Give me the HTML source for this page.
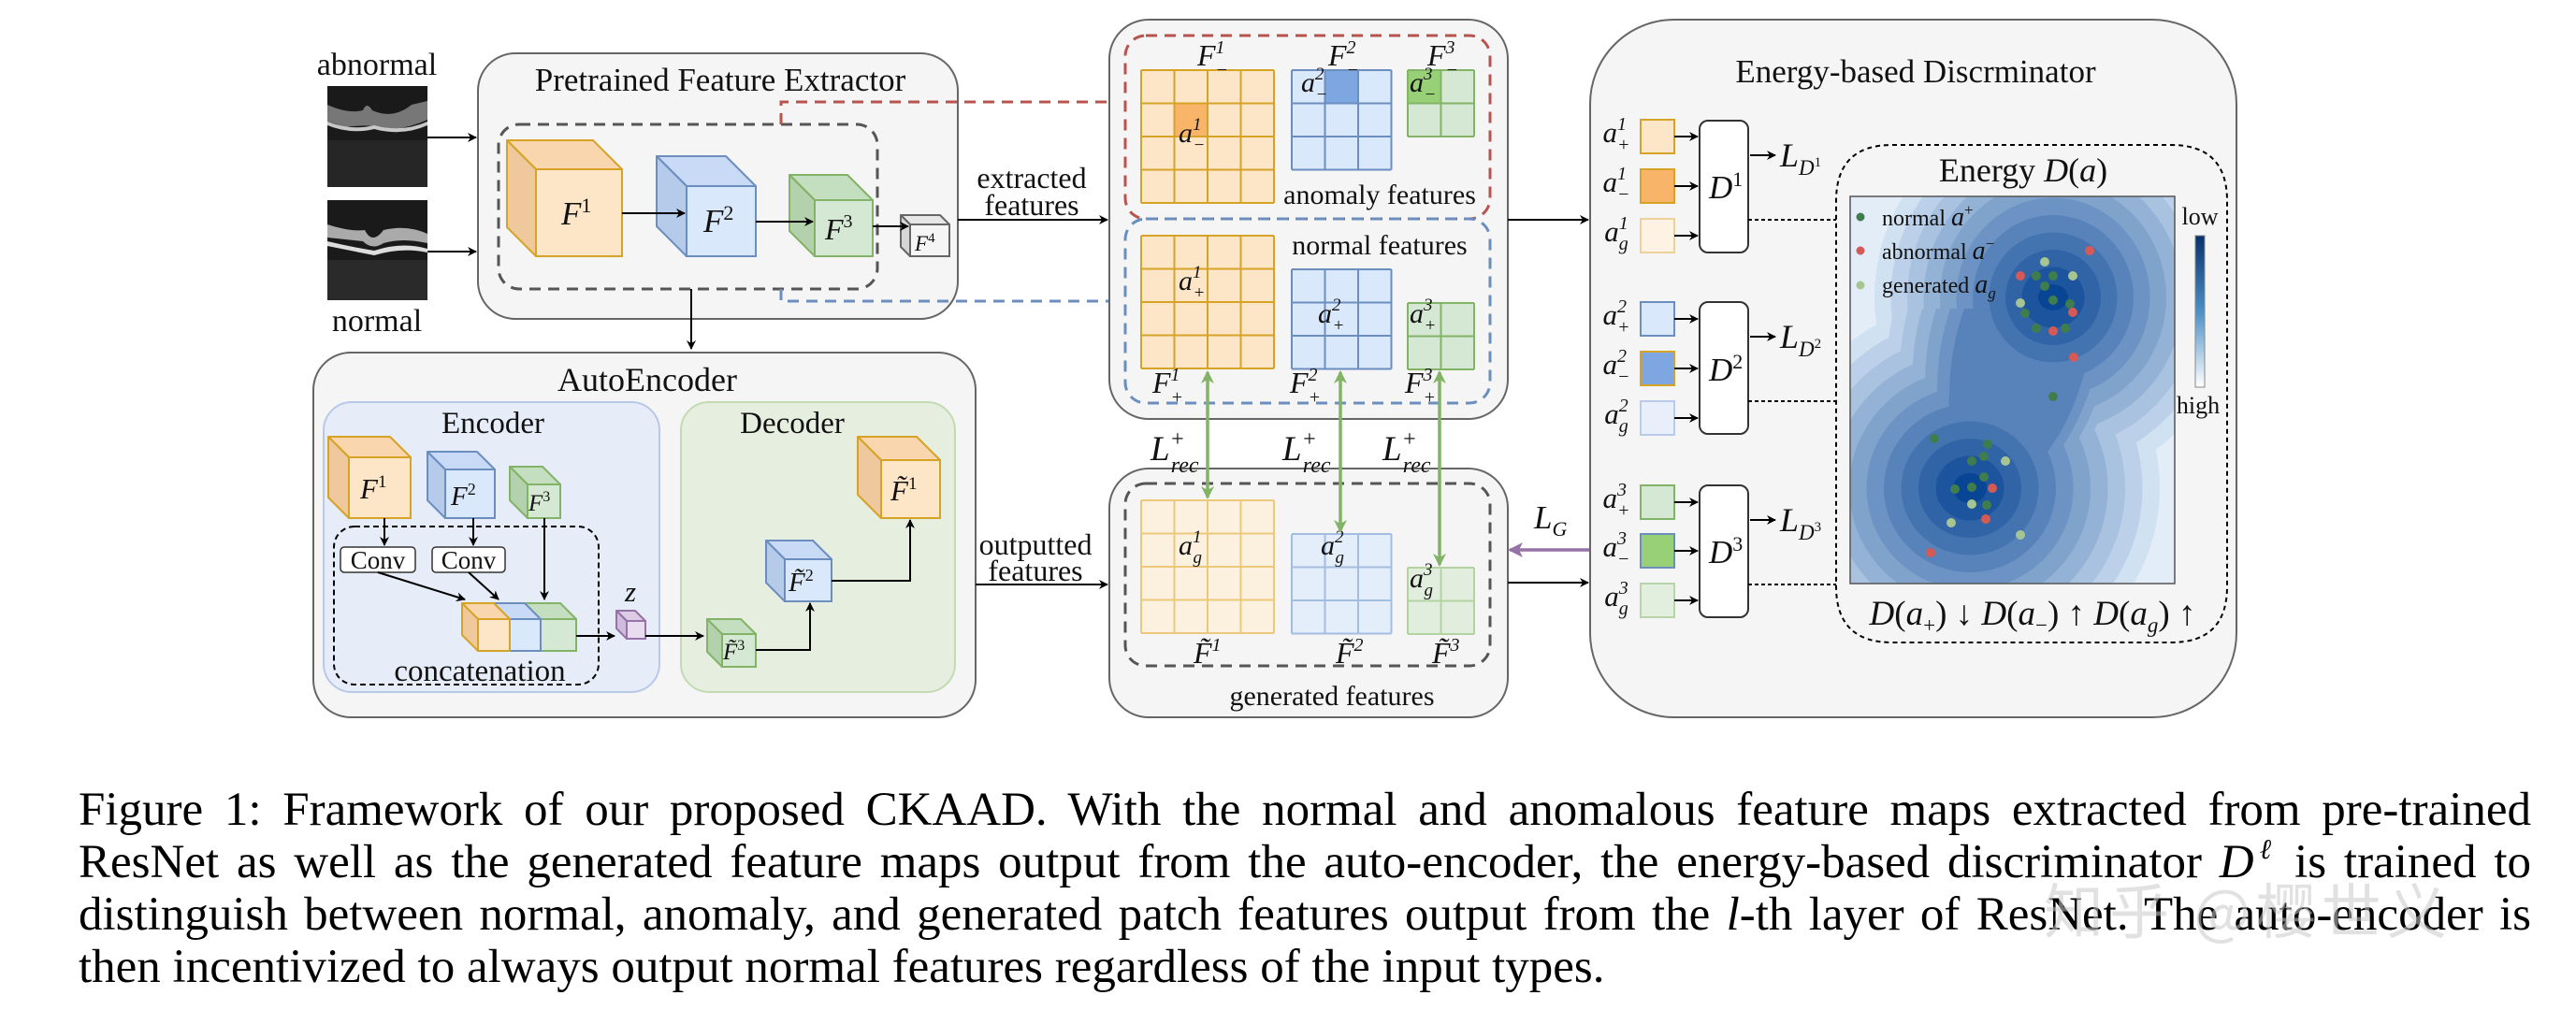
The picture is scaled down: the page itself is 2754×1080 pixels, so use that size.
<!DOCTYPE html>
<html><head><meta charset="utf-8"><style>
html,body{margin:0;padding:0;background:#fff;}
body{width:2754px;height:1080px;overflow:hidden;position:relative;}
svg{position:absolute;left:0;top:0;}
text{font-family:"Liberation Serif",serif;fill:#111;}
.m{font-style:italic;}
#cap{position:absolute;left:84px;top:838px;width:2622px;font-family:"Liberation Serif",serif;font-size:51px;line-height:56px;color:#000;}
#cap div{text-align:justify;text-align-last:justify;white-space:nowrap;height:56px;}
#cap div.l{text-align-last:left;}
#cap sup{font-size:30px;line-height:0;vertical-align:0;position:relative;top:-20px;}
#wm{position:absolute;left:2185px;top:925px;font-family:"Noto Sans CJK SC",sans-serif;font-size:64px;color:rgba(200,200,200,0.55);letter-spacing:6px;}
</style></head><body>
<svg id="s" width="2754" height="1080" viewBox="0 0 2754 1080">
<defs>
<marker id="ar" markerWidth="10" markerHeight="10" refX="9" refY="5" orient="auto" markerUnits="userSpaceOnUse"><path d="M0,0 L10,5 L0,10 L3,5 z" fill="#000"/></marker>
<marker id="ag" markerWidth="14" markerHeight="14" refX="12" refY="7" orient="auto-start-reverse" markerUnits="userSpaceOnUse"><path d="M0,0 L14,7 L0,14 L4,7 z" fill="#82b366"/></marker>
<marker id="ap" markerWidth="16" markerHeight="16" refX="14" refY="8" orient="auto" markerUnits="userSpaceOnUse"><path d="M0,0 L16,8 L0,16 L4,8 z" fill="#9673a6"/></marker>
<linearGradient id="cb" x1="0" y1="0" x2="0" y2="1"><stop offset="0" stop-color="#08306b"/><stop offset="0.5" stop-color="#4a90c8"/><stop offset="1" stop-color="#ffffff"/></linearGradient>
<clipPath id="pc"><rect x="1978" y="210" width="347" height="414"/></clipPath>
<filter id="bl" x="-20%" y="-20%" width="140%" height="140%"><feGaussianBlur stdDeviation="4"/></filter>
</defs>

<!-- OCT images -->
<rect x="350" y="92" width="107" height="108" fill="#1a1a1a"/>
<path d="M350,112 Q372,122 388,118 Q392,108 398,118 Q420,128 440,112 L457,108 L457,128 Q440,136 420,138 Q395,132 370,136 L350,130z" fill="#777"/>
<path d="M350,130 Q375,140 400,134 Q430,142 457,130 L457,134 Q430,146 400,138 Q375,144 350,134z" fill="#c8c8c8"/>
<rect x="350" y="150" width="107" height="50" fill="#262626"/>
<rect x="350" y="214" width="107" height="107" fill="#1a1a1a"/>
<path d="M350,240 Q375,248 390,246 Q398,262 410,246 Q435,240 457,250 L457,260 Q430,254 410,260 Q398,268 388,258 Q370,256 350,254z" fill="#aaa"/>
<path d="M350,258 Q375,264 400,268 Q430,258 457,266 L457,270 Q430,264 400,273 Q375,268 350,263z" fill="#ddd"/>
<rect x="350" y="278" width="107" height="43" fill="#2a2a2a"/>
<text x="403" y="80" font-size="34" text-anchor="middle">abnormal</text>
<text x="403" y="354" font-size="34" text-anchor="middle">normal</text>
<line x1="457" y1="147" x2="509" y2="147" stroke="#000" stroke-width="2" marker-end="url(#ar)"/>
<line x1="457" y1="269" x2="509" y2="269" stroke="#000" stroke-width="2" marker-end="url(#ar)"/>

<!-- Pretrained feature extractor -->
<rect x="511" y="57" width="513" height="284" rx="40" fill="#f5f5f5" stroke="#666" stroke-width="2"/>
<text x="770" y="97" font-size="35" text-anchor="middle" fill="#333">Pretrained Feature Extractor</text>
<rect x="533" y="133" width="405" height="176" rx="22" fill="none" stroke="#555" stroke-width="3" stroke-dasharray="12,8"/>
<g id="cubes"></g>

<path d="M835,133 L835,109 L1203,109" fill="none" stroke="#b85450" stroke-width="3" stroke-dasharray="12,8"/>
<path d="M835,309 L835,322 L1203,322" fill="none" stroke="#6c8ebf" stroke-width="3" stroke-dasharray="12,8"/>
<line x1="739" y1="309" x2="739" y2="373" stroke="#000" stroke-width="2" marker-end="url(#ar)"/>
<text x="1103" y="201" font-size="32" text-anchor="middle">extracted</text>
<text x="1103" y="230" font-size="32" text-anchor="middle">features</text>
<line x1="1024" y1="235" x2="1184" y2="235" stroke="#000" stroke-width="2" marker-end="url(#ar)"/>

<!-- AutoEncoder -->
<rect x="335" y="377" width="708" height="390" rx="40" fill="#f5f5f5" stroke="#666" stroke-width="2"/>
<text x="692" y="418" font-size="36" text-anchor="middle">AutoEncoder</text>
<rect x="346" y="430" width="359" height="310" rx="30" fill="#e6ecf8" stroke="#b8c9e8" stroke-width="2"/>
<rect x="728" y="430" width="293" height="310" rx="30" fill="#e6eee0" stroke="#c3dab3" stroke-width="2"/>
<text x="527" y="463" font-size="33" text-anchor="middle">Encoder</text>
<text x="847" y="463" font-size="33" text-anchor="middle">Decoder</text>
<rect x="357" y="563" width="283" height="169" rx="22" fill="none" stroke="#000" stroke-width="2" stroke-dasharray="6,4"/>
<rect x="364" y="585" width="80" height="27" rx="4" fill="#fff" stroke="#333" stroke-width="1.5"/>
<rect x="462" y="585" width="78" height="27" rx="4" fill="#fff" stroke="#333" stroke-width="1.5"/>
<text x="404" y="608" font-size="27" text-anchor="middle">Conv</text>
<text x="501" y="608" font-size="27" text-anchor="middle">Conv</text>
<text x="513" y="728" font-size="33" text-anchor="middle">concatenation</text>
<text x="674" y="643" font-size="31" class="m" text-anchor="middle">z</text>
<g id="cubes2"></g>
<g stroke="#000" stroke-width="2" fill="none">
<line x1="411" y1="554" x2="411" y2="583" marker-end="url(#ar)"/>
<line x1="506" y1="554" x2="506" y2="583" marker-end="url(#ar)"/>
<line x1="582" y1="554" x2="582" y2="641" marker-end="url(#ar)"/>
<line x1="404" y1="612" x2="497" y2="641" marker-end="url(#ar)"/>
<line x1="501" y1="612" x2="533" y2="641" marker-end="url(#ar)"/>
<line x1="616" y1="680" x2="657" y2="680" marker-end="url(#ar)"/>
<line x1="690" y1="680" x2="752" y2="680" marker-end="url(#ar)"/>
<path d="M808,695 L866,695 L866,645" marker-end="url(#ar)"/>
<path d="M889,621 L973,621 L973,556" marker-end="url(#ar)"/>
</g>
<text x="1107" y="593" font-size="32" text-anchor="middle">outputted</text>
<text x="1107" y="621" font-size="32" text-anchor="middle">features</text>
<line x1="1043" y1="625" x2="1184" y2="625" stroke="#000" stroke-width="2" marker-end="url(#ar)"/>

<!-- Middle boxes -->
<rect x="1186" y="21" width="426" height="427" rx="42" fill="#f5f5f5" stroke="#666" stroke-width="2"/>
<rect x="1203" y="38" width="390" height="196" rx="22" fill="none" stroke="#b85450" stroke-width="3" stroke-dasharray="12,8"/>
<rect x="1203" y="234" width="390" height="197" rx="22" fill="none" stroke="#6c8ebf" stroke-width="3" stroke-dasharray="12,8"/>
<rect x="1186" y="501" width="426" height="266" rx="42" fill="#f5f5f5" stroke="#666" stroke-width="2"/>
<rect x="1203" y="517" width="390" height="195" rx="22" fill="none" stroke="#555" stroke-width="3" stroke-dasharray="12,8"/>
<g id="grids"></g>
<g font-size="32" class="m">
<text x="1280" y="70" class="m">F<tspan font-size="20" dy="-13">1</tspan><tspan font-size="20" dx="-10" dy="24">−</tspan></text>
<text x="1420" y="70" class="m">F<tspan font-size="20" dy="-13">2</tspan><tspan font-size="20" dx="-10" dy="24">−</tspan></text>
<text x="1526" y="70" class="m">F<tspan font-size="20" dy="-13">3</tspan><tspan font-size="20" dx="-10" dy="24">−</tspan></text>
<text x="1232" y="420" class="m">F<tspan font-size="20" dy="-13">1</tspan><tspan font-size="20" dx="-10" dy="24">+</tspan></text>
<text x="1379" y="420" class="m">F<tspan font-size="20" dy="-13">2</tspan><tspan font-size="20" dx="-10" dy="24">+</tspan></text>
<text x="1502" y="420" class="m">F<tspan font-size="20" dy="-13">3</tspan><tspan font-size="20" dx="-10" dy="24">+</tspan></text>
<text x="1276" y="709" class="m">F̃<tspan font-size="20" dy="-13">1</tspan></text>
<text x="1428" y="709" class="m">F̃<tspan font-size="20" dy="-13">2</tspan></text>
<text x="1531" y="709" class="m">F̃<tspan font-size="20" dy="-13">3</tspan></text>
</g>
<g font-size="30" class="m">
<text x="1260" y="152" class="m">a<tspan font-size="19" dy="-13">1</tspan><tspan font-size="19" dx="-9" dy="22">−</tspan></text>
<text x="1391" y="98" class="m">a<tspan font-size="19" dy="-13">2</tspan><tspan font-size="19" dx="-9" dy="22">−</tspan></text>
<text x="1507" y="98" class="m">a<tspan font-size="19" dy="-13">3</tspan><tspan font-size="19" dx="-9" dy="22">−</tspan></text>
<text x="1260" y="310" class="m">a<tspan font-size="19" dy="-13">1</tspan><tspan font-size="19" dx="-9" dy="22">+</tspan></text>
<text x="1409" y="345" class="m">a<tspan font-size="19" dy="-13">2</tspan><tspan font-size="19" dx="-9" dy="22">+</tspan></text>
<text x="1507" y="345" class="m">a<tspan font-size="19" dy="-13">3</tspan><tspan font-size="19" dx="-9" dy="22">+</tspan></text>
<text x="1260" y="593" class="m">a<tspan font-size="19" dy="-13">1</tspan><tspan font-size="19" dx="-9" dy="22">g</tspan></text>
<text x="1412" y="593" class="m">a<tspan font-size="19" dy="-13">2</tspan><tspan font-size="19" dx="-9" dy="22">g</tspan></text>
<text x="1507" y="628" class="m">a<tspan font-size="19" dy="-13">3</tspan><tspan font-size="19" dx="-9" dy="22">g</tspan></text>
</g>
<text x="1475" y="218" font-size="30" text-anchor="middle">anomaly features</text>
<text x="1475" y="272" font-size="30" text-anchor="middle">normal features</text>
<text x="1424" y="754" font-size="30" text-anchor="middle">generated features</text>
<g stroke="#82b366" stroke-width="3.5">
<line x1="1291" y1="398" x2="1291" y2="532" marker-start="url(#ag)" marker-end="url(#ag)"/>
<line x1="1433" y1="398" x2="1433" y2="568" marker-start="url(#ag)" marker-end="url(#ag)"/>
<line x1="1539" y1="398" x2="1539" y2="604" marker-start="url(#ag)" marker-end="url(#ag)"/>
</g>
<g font-size="37">
<text x="1230" y="492" class="m" fill="#3e8a2e">L<tspan font-size="24" dy="-15">+</tspan><tspan font-size="24" dx="-15" dy="28">rec</tspan></text>
<text x="1371" y="492" class="m" fill="#3e8a2e">L<tspan font-size="24" dy="-15">+</tspan><tspan font-size="24" dx="-15" dy="28">rec</tspan></text>
<text x="1478" y="492" class="m" fill="#3e8a2e">L<tspan font-size="24" dy="-15">+</tspan><tspan font-size="24" dx="-15" dy="28">rec</tspan></text>
</g>
<line x1="1612" y1="235" x2="1698" y2="235" stroke="#000" stroke-width="2" marker-end="url(#ar)"/>
<line x1="1612" y1="623" x2="1698" y2="623" stroke="#000" stroke-width="2" marker-end="url(#ar)"/>
<line x1="1700" y1="588" x2="1614" y2="588" stroke="#9673a6" stroke-width="3.5" marker-end="url(#ap)"/>
<text x="1640" y="565" font-size="35" class="m" fill="#7a4fa0">L<tspan font-size="22" dy="8">G</tspan></text>

<!-- Discriminator -->
<rect x="1700" y="21" width="691" height="746" rx="90" fill="#f5f5f5" stroke="#666" stroke-width="2"/>
<text x="2048" y="88" font-size="35" text-anchor="middle">Energy-based Discrminator</text>
<g id="disc"></g>
<path d="M2023,155 L2321,155 Q2381,155 2381,215 L2381,627 Q2381,687 2321,687 L2023,687 Q1963,687 1963,627 L1963,215 Q1963,155 2023,155z" fill="none" stroke="#000" stroke-width="2" stroke-dasharray="5,4"/>
<text x="2163" y="194" font-size="36" text-anchor="middle">Energy <tspan class="m">D</tspan>(<tspan class="m">a</tspan>)</text>
<g clip-path="url(#pc)"><rect x="1978" y="210" width="347" height="414" fill="#e2edf8"/><g id="plot"></g></g>
<rect x="1978" y="210" width="347" height="414" fill="none" stroke="#555" stroke-width="1.5"/>
<g id="dots"></g>
<circle cx="1989" cy="232" r="4.5" fill="#3f7d4f"/><circle cx="1989" cy="268" r="4.5" fill="#d55a55"/><circle cx="1989" cy="305" r="4.5" fill="#a7c493"/>
<text x="2012" y="241" font-size="24">normal <tspan class="m" font-size="28">a</tspan><tspan font-size="17" dy="-11">+</tspan></text>
<text x="2012" y="277" font-size="24">abnormal <tspan class="m" font-size="28">a</tspan><tspan font-size="17" dy="-11">−</tspan></text>
<text x="2012" y="313" font-size="24">generated <tspan class="m" font-size="28">a</tspan><tspan font-size="17" dy="6" class="m">g</tspan></text>
<text x="2352" y="240" font-size="26" text-anchor="middle">low</text>
<text x="2350" y="442" font-size="26" text-anchor="middle">high</text>
<rect x="2347" y="252" width="10" height="162" fill="url(#cb)" stroke="#888" stroke-width="1"/>
<text x="2173" y="668" font-size="37" text-anchor="middle"><tspan class="m">D</tspan>(<tspan class="m">a</tspan><tspan font-size="23" dy="8">+</tspan><tspan dy="-8">)</tspan> ↓ <tspan class="m">D</tspan>(<tspan class="m">a</tspan><tspan font-size="23" dy="8">−</tspan><tspan dy="-8">)</tspan> ↑ <tspan class="m">D</tspan>(<tspan class="m">a</tspan><tspan font-size="23" dy="8" class="m">g</tspan><tspan dy="-8">)</tspan> ↑</text>
<g font-size="31">
<text x="1728" y="152" text-anchor="middle" class="m">a<tspan font-size="20" dy="-13">1</tspan><tspan font-size="20" dx="-10" dy="22">+</tspan></text>
<text x="1728" y="205" text-anchor="middle" class="m">a<tspan font-size="20" dy="-13">1</tspan><tspan font-size="20" dx="-10" dy="22">−</tspan></text>
<text x="1728" y="258" text-anchor="middle" class="m">a<tspan font-size="20" dy="-13">1</tspan><tspan font-size="20" dx="-10" dy="22">g</tspan></text>
<text x="1728" y="347" text-anchor="middle" class="m">a<tspan font-size="20" dy="-13">2</tspan><tspan font-size="20" dx="-10" dy="22">+</tspan></text>
<text x="1728" y="400" text-anchor="middle" class="m">a<tspan font-size="20" dy="-13">2</tspan><tspan font-size="20" dx="-10" dy="22">−</tspan></text>
<text x="1728" y="453" text-anchor="middle" class="m">a<tspan font-size="20" dy="-13">2</tspan><tspan font-size="20" dx="-10" dy="22">g</tspan></text>
<text x="1728" y="543" text-anchor="middle" class="m">a<tspan font-size="20" dy="-13">3</tspan><tspan font-size="20" dx="-10" dy="22">+</tspan></text>
<text x="1728" y="595" text-anchor="middle" class="m">a<tspan font-size="20" dy="-13">3</tspan><tspan font-size="20" dx="-10" dy="22">−</tspan></text>
<text x="1728" y="648" text-anchor="middle" class="m">a<tspan font-size="20" dy="-13">3</tspan><tspan font-size="20" dx="-10" dy="22">g</tspan></text>
</g>
<g font-size="35">
<text x="1827" y="212" class="m">D<tspan font-size="22" dy="-13" font-style="normal">1</tspan></text>
<text x="1827" y="407" class="m">D<tspan font-size="22" dy="-13" font-style="normal">2</tspan></text>
<text x="1827" y="602" class="m">D<tspan font-size="22" dy="-13" font-style="normal">3</tspan></text>
</g>
<g font-size="36">
<text x="1903" y="178" class="m" fill="#4a9be0">L<tspan font-size="23" dy="9">D</tspan><tspan font-size="15" dy="-9" font-style="normal">1</tspan></text>
<text x="1903" y="372" class="m" fill="#4a9be0">L<tspan font-size="23" dy="9">D</tspan><tspan font-size="15" dy="-9" font-style="normal">2</tspan></text>
<text x="1903" y="568" class="m" fill="#4a9be0">L<tspan font-size="23" dy="9">D</tspan><tspan font-size="15" dy="-9" font-style="normal">3</tspan></text>
</g>
<g font-size="35">
<text x="600" y="240" class="m">F<tspan font-size="22" dy="-13" font-style="normal">1</tspan></text>
<text x="752" y="248" class="m">F<tspan font-size="22" dy="-13" font-style="normal">2</tspan></text>
<text x="882" y="256" class="m" font-size="32">F<tspan font-size="20" dy="-13" font-style="normal">3</tspan></text>
<text x="978" y="268" class="m" font-size="23">F<tspan font-size="15" dy="-9" font-style="normal">4</tspan></text>
<text x="385" y="533" class="m" font-size="31">F<tspan font-size="19" dy="-12" font-style="normal">1</tspan></text>
<text x="482" y="540" class="m" font-size="29">F<tspan font-size="18" dy="-11" font-style="normal">2</tspan></text>
<text x="565" y="546" class="m" font-size="25">F<tspan font-size="16" dy="-10" font-style="normal">3</tspan></text>
<text x="952" y="535" class="m" font-size="31">F̃<tspan font-size="19" dy="-12" font-style="normal">1</tspan></text>
<text x="843" y="632" class="m" font-size="29">F̃<tspan font-size="18" dy="-11" font-style="normal">2</tspan></text>
<text x="773" y="705" class="m" font-size="25">F̃<tspan font-size="16" dy="-10" font-style="normal">3</tspan></text>
</g>
</svg>
<div id="cap">
<div>Figure 1: Framework of our proposed CKAAD. With the normal and anomalous feature maps extracted from pre-trained</div>
<div>ResNet as well as the generated feature maps output from the auto-encoder, the energy-based discriminator <i>D<sup>ℓ</sup></i> is trained to</div>
<div>distinguish between normal, anomaly, and generated patch features output from the <i>l</i>-th layer of ResNet. The auto-encoder is</div>
<div class="l">then incentivized to always output normal features regardless of the input types.</div>
</div>
<div id="wm">知乎 @樱世义</div>
<script>
var NS="http://www.w3.org/2000/svg";
function el(p,t,a){var e=document.createElementNS(NS,t);for(var k in a)e.setAttribute(k,a[k]);p.appendChild(e);return e;}
var C={o:["#fde5c8","#f9d6ae","#efc89e","#d6a327"],b:["#dae8fc","#c8daf5","#b6cbea","#6c8ebf"],g:["#d5e8d4","#c4dec0","#b3d1ad","#82b366"],k:["#f5f5f5","#e6e6e6","#d6d6d6","#666"],p:["#e8dcee","#ddcce6","#cfbcdc","#9673a6"]};
function cube(g,x,y,w,h,d,c){var s=C[c];
el(g,"polygon",{points:[x-d,y-d,x+w-d,y-d,x+w,y,x,y].join(","),fill:s[1],stroke:s[3],"stroke-width":2,"stroke-linejoin":"round"});
el(g,"polygon",{points:[x-d,y-d,x,y,x,y+h,x-d,y+h-d].join(","),fill:s[2],stroke:s[3],"stroke-width":2,"stroke-linejoin":"round"});
el(g,"rect",{x:x,y:y,width:w,height:h,fill:s[0],stroke:s[3],"stroke-width":2});}
var g1=document.getElementById("cubes");
cube(g1,573,181,92,93,31,"o");cube(g1,734,199,74,75,32,"b");cube(g1,871,214,62,60,27,"g");cube(g1,973,240,42,34,10,"k");
[[665,228,732],[808,237,869],[933,242,971]].forEach(function(a){el(g1,"line",{x1:a[0],y1:a[1],x2:a[2],y2:a[1],stroke:"#000","stroke-width":2,"marker-end":"url(#ar)"});});
var g2=document.getElementById("cubes2");
cube(g2,373,489,66,65,22,"o");cube(g2,476,502,53,52,19,"b");cube(g2,564,518,35,36,19,"g");
cube(g2,576,662,40,34,17,"g");cube(g2,543,662,35,34,17,"b");cube(g2,511,662,34,34,17,"o");
cube(g2,670,664,20,19,11,"p");
cube(g2,772,678,36,35,16,"g");cube(g2,839,598,50,45,20,"b");cube(g2,942,492,63,62,25,"o");
var gr=document.getElementById("grids");
function grid(x,y,n,cs,fill,st,hl,hc){
el(gr,"rect",{x:x,y:y,width:n*cs,height:n*cs,fill:fill});
if(hl)el(gr,"rect",{x:x+hl[0]*cs,y:y+hl[1]*cs,width:cs,height:cs,fill:hc});
for(var i=0;i<=n;i++){el(gr,"line",{x1:x+i*cs,y1:y,x2:x+i*cs,y2:y+n*cs,stroke:st,"stroke-width":2});el(gr,"line",{x1:x,y1:y+i*cs,x2:x+n*cs,y2:y+i*cs,stroke:st,"stroke-width":2});}}
var cs=35.5;
grid(1220,75,4,cs,"#fde5c8","#d6a327",[1,1],"#f8b469");
grid(1381,75,3,cs,"#dae8fc","#6c8ebf",[1,0],"#7ea6e0");
grid(1505,75,2,cs,"#d5e8d4","#82b366",[0,0],"#97d077");
grid(1220,252,4,cs,"#fde5c8","#d6a327");
grid(1381,288,3,cs,"#dae8fc","#6c8ebf");
grid(1505,324,2,cs,"#d5e8d4","#82b366");
grid(1220,535,4,cs,"#fcf0df","#ecc97a");
grid(1381,571,3,cs,"#e4edfa","#a3bde0");
grid(1505,607,2,cs,"#e1eedd","#b2d2a1");
var dg=document.getElementById("disc");
var sq=[["#fde5c8","#d6a327"],["#f8b469","#d6a327"],["#fdf2e3","#ecd19a"],["#dae8fc","#6c8ebf"],["#7ea6e0","#d6a327"],["#e8eefa","#b8cbe8"],["#d5e8d4","#82b366"],["#97d077","#6c8ebf"],["#e3efde","#b8d4a8"]];
var cy=[146,199,252,341,394,447,537,589,642];
cy.forEach(function(y,i){el(dg,"rect",{x:1754,y:y-18,width:36,height:36,fill:sq[i][0],stroke:sq[i][1],"stroke-width":2});
el(dg,"line",{x1:1790,y1:y,x2:1815,y2:y,stroke:"#000","stroke-width":2,"marker-end":"url(#ar)"});});
[[129,166,235],[323,360,429],[519,556,625]].forEach(function(a){
el(dg,"rect",{x:1817,y:a[0],width:52,height:141,rx:9,fill:"#fff",stroke:"#333","stroke-width":2});
el(dg,"line",{x1:1871,y1:a[1],x2:1898,y2:a[1],stroke:"#000","stroke-width":2,"marker-end":"url(#ar)"});
el(dg,"line",{x1:1869,y1:a[2],x2:1963,y2:a[2],stroke:"#000","stroke-width":2,"stroke-dasharray":"4,3"});});
var pl=document.getElementById("plot");
function lerp(a,b,t){return Math.round(a+(b-a)*t);}
var c0=[208,225,242],c1=[8,69,148];
for(var i=0;i<11;i++){var t=i/10,s=1-t;var col="rgb("+lerp(c0[0],c1[0],t)+","+lerp(c0[1],c1[1],t)+","+lerp(c0[2],c1[2],t)+")";
var g=el(pl,"g",{fill:col});
el(g,"ellipse",{cx:2195,cy:318,rx:16+175*s,ry:14+185*s});
el(g,"ellipse",{cx:2106,cy:522,rx:18+185*s,ry:16+185*s});
if(i<7){el(g,"path",{d:"M"+(2150-150*s+10)+",330 C"+(2120-130*s)+",420 "+(2150-120*s)+",460 "+(2106-120*s)+",520 L"+(2106+130*s)+",520 C"+(2190+110*s)+",440 "+(2180+100*s)+",400 "+(2195+140*s)+",330 Z"});}
}
var G="#3f7d4f",R="#d55a55",L="#a7c493";
var dots=[[2186,280,L],[2160,295,R],[2177,295,G],[2195,295,G],[2216,295,L],[2186,306,G],[2195,321,G],[2160,324,L],[2213,325,G],[2165,335,G],[2216,334,R],[2177,351,G],[2195,354,R],[2208,351,G],[2234,268,R],[2217,382,R],[2195,424,G],[2068,469,G],[2125,475,G],[2108,493,G],[2121,488,G],[2144,493,L],[2121,510,G],[2090,523,G],[2108,521,G],[2130,522,R],[2108,539,L],[2124,540,G],[2123,555,R],[2086,559,L],[2160,572,L],[2064,591,R]];
var dd=document.getElementById("dots");
dots.forEach(function(d){el(dd,"circle",{cx:d[0],cy:d[1],r:5,fill:d[2]});});
</script>
</body></html>
